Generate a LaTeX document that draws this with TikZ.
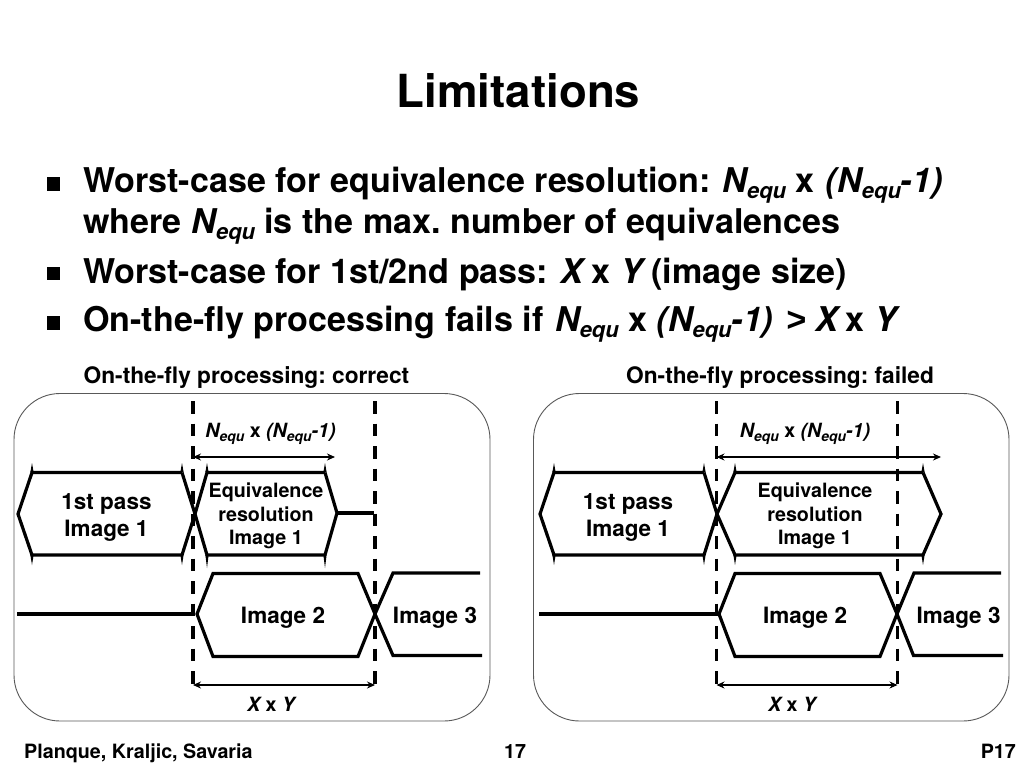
\documentclass[tikz,border=0pt]{standalone}
\usepackage{fontspec}
\setmainfont{TeX Gyre Heros}
\newfontfamily\gtfont{Liberation Sans}
\usetikzlibrary{arrows.meta}
\frenchspacing
\newcommand{\fsz}[1]{\fontsize{#1}{#1}\selectfont}
\newcommand{\Nq}[2]{{\itshape N\raisebox{-0.18em}{\fontsize{#2}{#2}\selectfont equ}}}
\tikzset{
  sig/.style={line width=3.2pt,line join=miter,line cap=butt,black},
  guide/.style={line width=3.4pt,dash pattern=on 12.5pt off 10pt,black},
  dim/.style={line width=1.2pt,{Stealth[length=8pt,width=7pt]}-{Stealth[length=8pt,width=7pt]},black},
  panel/.style={draw=black!65,line width=0.9pt,rounded corners=46pt},
  lab/.style={font=\bfseries\fsz{22.5},inner sep=0pt,align=center},
  eq/.style={font=\bfseries\fsz{19.7},inner sep=0pt,align=center},
  dimlab/.style={font=\bfseries\fsz{19.6},inner sep=0pt},
  caption/.style={font=\bfseries\fsz{22.7},inner sep=0pt,anchor=base west},
  foot/.style={font=\bfseries\fsz{19.7},inner sep=0pt},
  bul/.style={font=\bfseries\fsz{34.1},inner sep=0pt,anchor=base west},
  dotb/.style={fill=black,minimum size=13.5pt,inner sep=0pt,draw=none,rectangle}
}
\newcommand{\spk}[3]{\fill (#1-1.6,#2) -- (#1,#3) -- (#1+1.6,#2) -- cycle;}
\begin{document}
\begin{tikzpicture}[x=1pt,y=-1pt]
\useasboundingbox (0,0) rectangle (1024,768);
\fill[white] (0,0) rectangle (1024,768);
\node[font=\bfseries\fsz{45.6},inner sep=0pt,anchor=base] (title) at (518.5,107) {Limitations};
\node[dotb] (b1) at (53.5,184) {};
\node[dotb] (b2) at (53.5,273.5) {};
\node[dotb] (b3) at (53.5,323) {};
\node[bul] (t1) at (83,192) {Worst-case for equivalence resolution:\hspace{2pt} \Nq{}{22} x\hspace{2pt} {\itshape (}\Nq{}{22}{\itshape -1)}};
\node[bul] (t2) at (83,233) {where \Nq{}{22} is the max. number of equivalences};
\node[bul] (t3) at (83,283) {Worst-case for 1st/2nd pass:\hspace{3pt} {\itshape X}\hspace{-1pt} x\hspace{0pt} {\itshape Y}\hspace{-1pt} (image size)};
\node[bul] (t4) at (83,331) {On-the-fly processing fails if\hspace{2pt} \Nq{}{22} x\hspace{0pt} {\itshape (}\Nq{}{22}{\itshape -1)\hspace{3pt} {\gtfont >} X}\hspace{-2pt} x\hspace{1pt} {\itshape Y}};
\node[caption] (c1) at (83.5,383.5) {On-the-fly processing: correct};
\node[caption] (c2) at (626,383.5) {On-the-fly processing: failed};
\node[foot,anchor=base west] (f1) at (24,758) {Planque, Kraljic, Savaria};
\node[foot,anchor=base] (f2) at (515,758) {17};
\node[foot,anchor=base east] (f3) at (1016,758) {P17};
% left panel
\draw[panel] (14,393.5) rectangle (490,721);
\coordinate (la) at (193,401); \coordinate (lb) at (193,687);
\coordinate (lc) at (375,401); \coordinate (ld) at (375,687);
\draw[guide] (la) -- (lb);
\draw[guide] (lc) -- (ld);
\draw[sig] (182,472.5) -- (32,472.5) -- (18,514) -- (32,555) -- (182,555);
\draw[sig] (182,472.5) -- (195,514) -- (182,555);
\draw[sig] (325,472.5) -- (207,472.5) -- (195,514) -- (207,555) -- (325,555);
\draw[sig] (325,472.5) -- (337,513) -- (325,555);
\draw[sig] (337,513) -- (374,513);
\draw[sig] (17,614) -- (195,614);
\draw[sig] (197,614) -- (213,573.5) -- (358,573.5) -- (375,614) -- (358,656.5) -- (213,656.5) -- cycle;
\draw[sig] (480,573) -- (393,573) -- (375,614) -- (393,655.5) -- (482,655.5);
\spk{32}{472}{463}\spk{32}{555}{565}\spk{182}{472}{463}\spk{182}{555}{565}
\spk{207}{472}{463}\spk{207}{555}{568}\spk{325}{472}{463}\spk{325}{555}{568}
\coordinate (l1) at (193,457); \coordinate (l2) at (335,457);
\coordinate (l3) at (193,685); \coordinate (l4) at (375,685);
\draw[dim] (l1) -- (l2);
\draw[dim] (l3) -- (l4);
\node[dimlab] (ln) at (270.5,434) {\Nq{}{14} x {\itshape (}\Nq{}{14}{\itshape -1)}};
\node[dimlab] (lx) at (271,704) {{\itshape X} x {\itshape Y}};
\node[lab] (lp) at (106.5,517.5) {1st pass\\[4.5pt]Image 1};
\node[eq] (le) at (266,516) {Equivalence\\[4pt]resolution\\[4pt]Image 1};
\node[lab] (l2t) at (283,617.5) {Image 2};
\node[lab] (l3t) at (435,617.5) {Image 3};
% right panel
\draw[panel] (533.5,393.5) rectangle (1009,721);
\coordinate (ra) at (716.5,401); \coordinate (rb) at (716.5,687);
\coordinate (rc) at (897.5,401); \coordinate (rd) at (897.5,687);
\draw[guide] (ra) -- (rb);
\draw[guide] (rc) -- (rd);
\draw[sig] (704,472.5) -- (554,472.5) -- (540,514) -- (554,555) -- (704,555);
\draw[sig] (704,472.5) -- (717,514) -- (704,555);
\draw[sig] (923,472.5) -- (735,472.5) -- (717,514) -- (735,555) -- (923,555);
\draw[sig] (923,472.5) -- (941,514) -- (923,555);
\draw[sig] (539,614) -- (717,614);
\draw[sig] (719,614) -- (735,573.5) -- (880,573.5) -- (897,614) -- (880,656.5) -- (735,656.5) -- cycle;
\draw[sig] (1001,573) -- (914,573) -- (897,614) -- (913.5,655.5) -- (1003,655.5);
\spk{554}{472}{463}\spk{554}{555}{565}\spk{704}{472}{463}\spk{704}{555}{565}
\spk{735}{472}{463}\spk{735}{555}{565}\spk{923}{472}{463}\spk{923}{555}{565}
\coordinate (r1) at (716.5,457); \coordinate (r2) at (941,457);
\coordinate (r3) at (716.5,685); \coordinate (r4) at (897.5,685);
\draw[dim] (r1) -- (r2);
\draw[dim] (r3) -- (r4);
\node[dimlab] (rn) at (805,434) {\Nq{}{14} x {\itshape (}\Nq{}{14}{\itshape -1)}};
\node[dimlab] (rx) at (792,704) {{\itshape X} x {\itshape Y}};
\node[lab] (rp) at (628,517.5) {1st pass\\[4.5pt]Image 1};
\node[eq] (re) at (815,516) {Equivalence\\[4pt]resolution\\[4pt]Image 1};
\node[lab] (r2t) at (805,617.5) {Image 2};
\node[lab] (r3t) at (958.5,617.5) {Image 3};
\end{tikzpicture}
\end{document}
